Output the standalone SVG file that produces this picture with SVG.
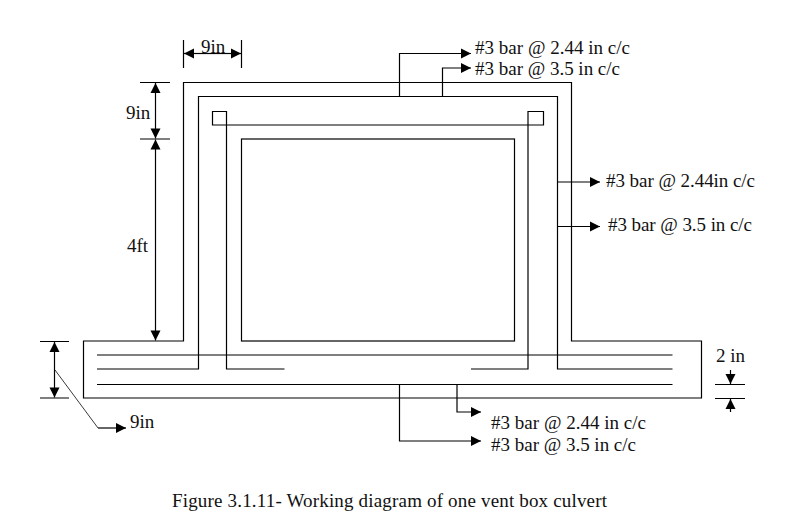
<svg xmlns="http://www.w3.org/2000/svg" width="787" height="530" viewBox="0 0 787 530">
<style>
text{font-family:"Liberation Serif","Times New Roman",serif;font-size:19px;fill:#111}
.l{fill:none;stroke:#000;stroke-width:1.2}
.t{fill:none;stroke:#222;stroke-width:.9}
.a{fill:none;stroke:#000;stroke-width:1.2;marker-end:url(#arr)}
</style>
<defs>
<marker id="arr" viewBox="0 0 10 10" refX="10" refY="5" markerWidth="10" markerHeight="10" markerUnits="userSpaceOnUse" orient="auto" overflow="visible"><path d="M0,0L10,5L0,10Z" fill="#000"/></marker>
</defs>
<rect width="787" height="530" fill="#fff"/>
<g id="culvert-outline"><path class="l" d="M183.500,341V82.500H571.500V341H701.500V398H83.500V341Z"/></g>
<g id="opening"><rect class="l" x="241.500" y="139" width="273" height="202"/></g>
<g id="outer-bar"><path class="l" d="M97,369H198.500V96.500H557.500V369H672.500"/></g>
<g id="inner-bar"><path class="l" d="M284.500,369H226.500V111.500H212.500V125H543.500V111.500H528V369H471"/></g>
<g id="flange-bars"><path class="l" d="M97,355H672.500M97,384.500H672.500"/></g>
<g id="connectors">
<path class="a" d="M399.500,96.500V53.500H471"/>
<path class="a" d="M442.500,96.500V68H471"/>
<path class="a" d="M557.500,182H600"/>
<path class="a" d="M557.500,226.500H600"/>
<path class="a" d="M457,384.500V412H481"/>
<path class="a" d="M399.500,384.500V441H481"/>
<path class="t" d="M55,370L98,428"/>
<path class="a" d="M98,428H126"/>
</g>
<g id="dimensions">
<path class="l" d="M183.500,40V68M241.500,40V68"/>
<path class="a" d="M212,53.500H184"/><path class="a" d="M212,53.500H241"/>
<path class="l" d="M140,82.500H170M140,139H170"/>
<path class="a" d="M155.500,110V83"/><path class="a" d="M155.500,110V138.500"/>
<path class="a" d="M155.500,240V139.500"/><path class="a" d="M155.500,240V340.500"/>
<path class="l" d="M40,341.500H69M40,398H69"/>
<path class="a" d="M54.500,370V342"/><path class="a" d="M54.500,370V397.500"/>
<path class="l" d="M715,384.500H745M715,398.500H745"/>
<path class="a" d="M730.500,370V384"/><path class="a" d="M730.500,412V399"/>
</g>
<g id="labels">
<text x="201" y="53">9in</text>
<text x="126" y="119">9in</text>
<text x="127" y="252">4ft</text>
<text x="130" y="428">9in</text>
<text x="716" y="362">2 in</text>
<text x="475" y="53.500" textLength="155">#3 bar @ 2.44 in c/c</text>
<text x="475" y="74.500" textLength="145">#3 bar @ 3.5 in c/c</text>
<text x="606" y="186.500" textLength="149">#3 bar @ 2.44in c/c</text>
<text x="608" y="230.500" textLength="144">#3 bar @ 3.5 in c/c</text>
<text x="491" y="428.500" textLength="155">#3 bar @ 2.44 in c/c</text>
<text x="491" y="450.500" textLength="145">#3 bar @ 3.5 in c/c</text>
<text x="172" y="507" textLength="435">Figure 3.1.11- Working diagram of one vent box culvert</text>
</g>
</svg>
